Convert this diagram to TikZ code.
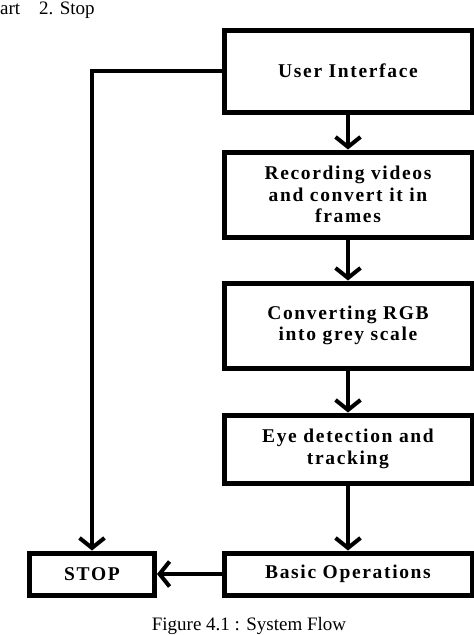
\documentclass[tikz,border=0pt]{standalone}
\usepackage{fontspec}
\setmainfont{Liberation Serif}
\newfontfamily\blockfont[LetterSpace=8.5]{Liberation Serif}
\usetikzlibrary{arrows.meta}

\tikzset{
  block/.style={draw, line width=5pt, minimum width=248pt, inner sep=0pt,
    align=center, font=\blockfont\bfseries\fontsize{19.5}{21.5}\selectfont},
  flow/.style={line width=4pt, -{Straight Barb[length=10pt,width=25pt]}}
}

\begin{document}
\begin{tikzpicture}[x=1pt,y=-1pt]
    \useasboundingbox (0,0) rectangle (474,635);

    % Cut-off text above the figure
    \node[anchor=base west, inner sep=0pt, font=\fontsize{19}{22}\selectfont] (head) at (0,14) {art\quad 2. Stop};

    % Blocks of the flow
    \node[block, minimum height=82pt] (ui) at (348,71) {User Interface};
    \node[block, minimum height=85pt] (rec) at (348,194.5) {Recording videos\\and convert it in\\frames};
    \node[block, minimum height=85pt] (rgb) at (348,325.5) {Converting RGB\\into grey scale};
    \node[block, minimum height=68pt] (eye) at (348,449) {Eye detection and\\tracking};
    \node[block, minimum height=42pt] (ops) at (348,574) {Basic Operations};
    \node[block, minimum width=125pt, minimum height=42pt] (stop) at (92,574) {STOP};

    % Connectors
    \draw[flow] (ui.south) -- (rec.north);
    \draw[flow] (rec.south) -- (rgb.north);
    \draw[flow] (rgb.south) -- (eye.north);
    \draw[flow] (eye.south) -- (ops.north);
    \draw[flow] (ops.west) -- (stop.east);
    \draw[flow] (ui.west) -| (stop.north);

    % Caption
    \node[anchor=base, inner sep=0pt, font=\fontsize{19}{22}\selectfont] (caption) at (249,630) {Figure 4.1 : System Flow};
\end{tikzpicture}
\end{document}
